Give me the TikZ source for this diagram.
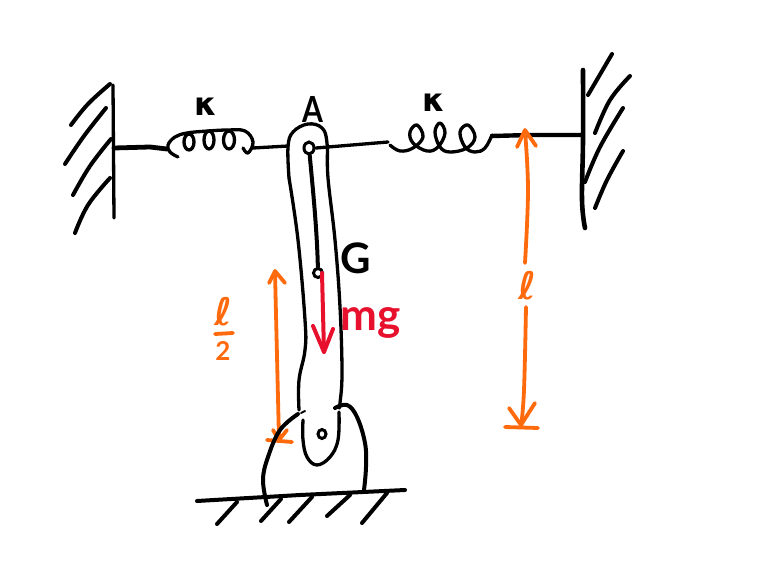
\documentclass[tikz,border=0pt]{standalone}
\usepackage{fontspec}
\usetikzlibrary{shapes.geometric}
\setmainfont{Lato}
\newfontfamily\symfam{DejaVu Sans}
\definecolor{ink}{RGB}{0,0,0}
\definecolor{orangeink}{RGB}{255,106,13}
\definecolor{redink}{RGB}{232,17,45}
\tikzset{
  pen/.style={draw=ink,line width=3.3pt,line cap=round,line join=round},
  heavy/.style={pen,line width=4pt},
  hatchline/.style={pen,line width=4pt},
  orangeline/.style={draw=orangeink,line width=3.8pt,line cap=round,line join=round},
  redline/.style={draw=redink,line width=4pt,line cap=round,line join=round},
  pin/.style={ellipse,draw=ink,line width=3pt,fill=white,inner sep=0pt},
  lbl/.style={inner sep=0pt,outer sep=0pt,text=ink},
  curvy/.style={smooth,tension=0.65},
  kappalbl/.style={lbl,font=\symfam\bfseries\fontsize{32}{32}\selectfont},
  elllbl/.style={lbl,text=orangeink,font=\symfam\bfseries\fontsize{38}{38}\selectfont}
}
\begin{document}
\begin{tikzpicture}[x=1pt,y=-1pt]
\useasboundingbox (0,0) rectangle (771,575);
% left wall
\draw[pen] (113,85) -- (114,218);
\draw[hatchline] plot[curvy] coordinates {(71,125) (88,104) (110,84)};
\draw[hatchline] plot[curvy] coordinates {(65,164) (84,136) (106,108)};
\draw[hatchline] plot[curvy] coordinates {(73,195) (90,166) (111,139)};
\draw[hatchline] plot[curvy] coordinates {(75,233) (88,205) (110,178)};
\draw[heavy,line width=4.8pt] (114,148) -- (150,147) -- (167,149);
% left spring
\draw[pen] plot[curvy] coordinates {(178,157) (170,152) (168,145) (175,137) (187,133) (208,131) (228,130) (245,131) (253,142) (248,153) (243,148)};
\draw[pen] (189,142) ellipse [x radius=5,y radius=8];
\draw[pen] (209,140) ellipse [x radius=5,y radius=9];
\draw[pen] (229,140) ellipse [x radius=5.5,y radius=9];
\draw[pen] (253,148) -- (288,146);
% bar
\draw[pen] plot[curvy] coordinates {(289,178) (288,147) (293,132) (308,124) (322,128) (327,143) (328,178) (335,240) (340,307) (342,373) (340,403) (339,408)};
\draw[pen] plot[curvy] coordinates {(289,178) (298,240) (305,320) (305,350) (299,380) (299,410)};
\draw[pen] plot[curvy] coordinates {(339,412) (338,440) (330,457) (317,465) (307,457) (303,440) (303,420)};
% wire on the right of pin A
\draw[pen] (316,148) -- (388,142);
% right spring
\draw[pen] plot[curvy] coordinates {(390,145) (400,151) (413,148) (423,137) (417,125) (410,132) (413,143) (427,151)
  (438,147) (445,133) (440,123) (435,132) (440,147) (450,152) (467,148) (475,137) (468,125) (460,132) (465,147) (475,152) (485,148) (492,135)};
\draw[heavy,line width=4.4pt] (492,136) -- (530,135) -- (580,135);
% right wall
\draw[heavy,line width=4.6pt] plot[curvy] coordinates {(583,70) (583,140) (582,200) (585,228)};
\draw[hatchline] (588,95) -- (612,54);
\draw[hatchline] plot[curvy] coordinates {(595,133) (610,100) (630,76)};
\draw[hatchline] plot[curvy] coordinates {(585,182) (600,147) (623,108)};
\draw[hatchline] plot[curvy] coordinates {(595,208) (607,180) (623,151)};
% pins and rod
\node[pin,minimum width=10pt,minimum height=12pt] (pinA) at (309,148) {};
\node[pin,minimum width=9pt,minimum height=9pt] (pinG) at (318,273) {};
\node[pin,minimum width=8pt,minimum height=9pt] (pinO) at (322,434) {};
\draw[heavy] (pinA) .. controls (313,190) and (317,230) .. (pinG);
% left orange arrow
\draw[orangeline] (275,272) -- (279,440);
\draw[orangeline] (269,283) -- (275,271) -- (285,283);
\draw[orangeline] (273,430) -- (279,440);
\draw[orangeline] (287,430) -- (279,440);
\draw[orangeline] (267,440) -- (292,442);
% support
\draw[heavy] plot[curvy] coordinates {(298,414) (280,430) (268,457) (263,480) (267,505)};
\draw[pen,line width=2pt] (301,413) -- (305,411);
\draw[heavy] plot[curvy] coordinates {(335,408) (347,405) (357,417) (365,443) (366,467) (364,490)};
\draw[heavy] (197,501) -- (300,495) -- (405,490);
\draw[hatchline] (217,524) -- (237,502);
\draw[hatchline] (261,521) -- (281,499);
\draw[hatchline] (289,522) -- (312,497);
\draw[hatchline] (327,516) -- (350,495);
\draw[hatchline] (362,523) -- (387,493);
% mg arrow
\draw[redline] (322,273) -- (324,352);
\draw[redline] (313,326) -- (324,352) -- (333,329);
% right orange arrow
\draw[orangeline] plot[curvy] coordinates {(525,131) (528,190) (525,263)};
\draw[orangeline] (517,147) -- (525,130) -- (536,146);
\draw[orangeline] plot[curvy] coordinates {(526,307) (524,390) (521,427)};
\draw[orangeline] (509,408) -- (521,425) -- (535,403);
\draw[orangeline] (505,427) -- (538,428);
% labels
\node[kappalbl] (kl) at (206,107) {κ};
\node[kappalbl] (kr) at (434,103) {κ};
\node[lbl,font=\fontsize{30}{30}\selectfont\bfseries,yscale=1.2,transform shape] (la) at (313,109) {A};
\node[lbl,font=\fontsize{42}{42}\selectfont\bfseries] (lg) at (356,258) {G};
\node[lbl,text=redink,font=\fontsize{44}{44}\selectfont\bfseries] (lmg) at (371,323) {mg};
\node[elllbl] (ll) at (527,286) {ℓ};
\node[elllbl] (lh) at (223,312) {ℓ};
\draw[orangeline] (215,334) -- (233,333);
\node[lbl,text=orangeink,font=\fontsize{26}{26}\selectfont\bfseries] (ltwo) at (223,351) {2};
\end{tikzpicture}
\end{document}
